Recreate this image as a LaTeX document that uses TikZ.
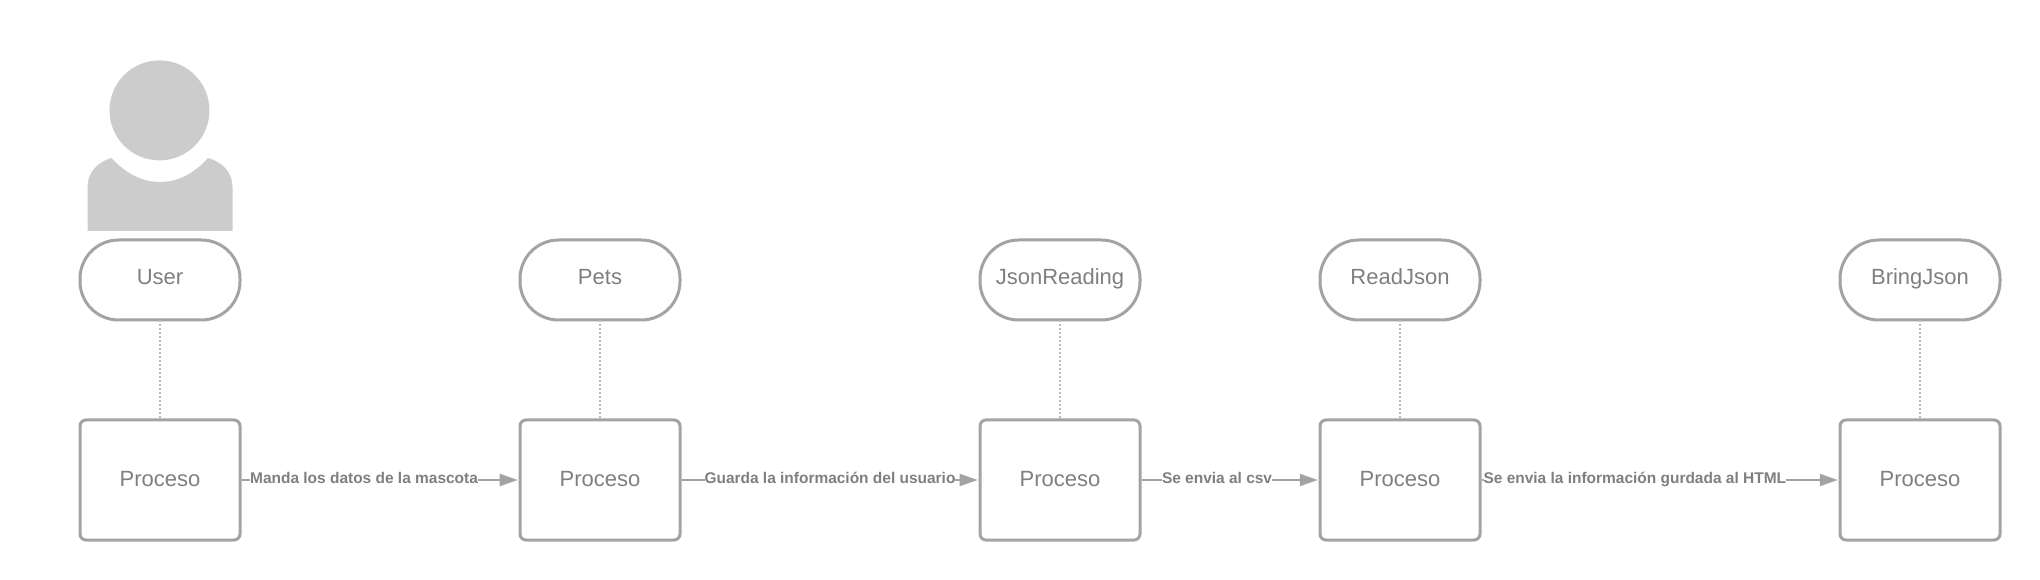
\documentclass[tikz,border=0pt]{standalone}
\usepackage{fontspec}
\setmainfont{Liberation Sans}
\usetikzlibrary{positioning,arrows.meta}
\definecolor{linegray}{HTML}{A3A3A3}
\definecolor{textgray}{HTML}{7F7F7F}
\definecolor{persongray}{HTML}{CCCCCC}
\tikzset{proceso node/.style={rectangle,draw=linegray,line width=2.25pt,rounded corners=4.5pt,minimum width=120pt,minimum height=90pt,outer sep=0pt,inner sep=0pt,text=textgray,font=\fontsize{16.5pt}{18pt}\selectfont,text height=13pt,text depth=3pt},
            pill node/.style={proceso node,rounded corners=29pt,minimum height=60pt,text height=11.5pt,text depth=4pt},
            flow line/.style={draw=linegray,line width=1.5pt,-{Triangle[length=13.5pt,width=9pt]},shorten <=1.5pt,shorten >=1.7pt},
            flow label/.style={fill=white,inner sep=0pt,text=textgray,font=\fontsize{11.6pt}{13pt}\selectfont\bfseries,text height=8.5pt,text depth=3.5pt},
            life line/.style={draw=linegray!75,line width=1pt,dash pattern=on 1.5pt off 1.5pt},
            }

\begin{document}
\begin{tikzpicture}
    \useasboundingbox (0,0) rectangle (1530pt,-435pt);

    \node[proceso node] (proc1) at (120pt,-360pt) {Proceso};
    \node[proceso node] (proc2) [right = 210pt of proc1] {Proceso};
    \node[proceso node] (proc3) [right = 225pt of proc2] {Proceso};
    \node[proceso node] (proc4) [right = 135pt of proc3] {Proceso};
    \node[proceso node] (proc5) [right = 270pt of proc4] {Proceso};

    \node[pill node] (user) [above = 75pt of proc1] {User};
    \node[pill node] (pets) [above = 75pt of proc2] {Pets};
    \node[pill node] (jsonreading) [above = 75pt of proc3] {JsonReading};
    \node[pill node] (readjson) [above = 75pt of proc4] {ReadJson};
    \node[pill node] (bringjson) [above = 75pt of proc5] {BringJson};

    \node[circle,fill=persongray,minimum size=75pt,inner sep=0pt] (head) [above = 59.5pt of user,xshift=-.4pt] {};
    \begin{scope}[x=.75pt,y=-.75pt]
    \fill[persongray] (87.5,231) -- (87.5,187) .. controls (87.5,172) and (98,162) .. (111.5,158)
        .. controls (128,176) and (145,182) .. (160,182)
        .. controls (175,182) and (192,176) .. (208,158)
        .. controls (222,162) and (232.5,172) .. (232.5,187) -- (232.5,231) -- cycle;
    \end{scope}

    \path
    (user) edge[life line] (proc1)
    (pets) edge[life line] (proc2)
    (jsonreading) edge[life line] (proc3)
    (readjson) edge[life line] (proc4)
    (bringjson) edge[life line] (proc5);

    \path
    (proc1) edge[flow line] node[flow label,pos=.443] {Manda los datos de la mascota} (proc2)
    (proc2) edge[flow line] node[flow label,pos=.5] {Guarda la información del usuario} (proc3)
    (proc3) edge[flow line] node[flow label,pos=.428] {Se envia al csv} (proc4)
    (proc4) edge[flow line] node[flow label,pos=.43] {Se envia la información gurdada al HTML} (proc5);

\end{tikzpicture}
\end{document}
